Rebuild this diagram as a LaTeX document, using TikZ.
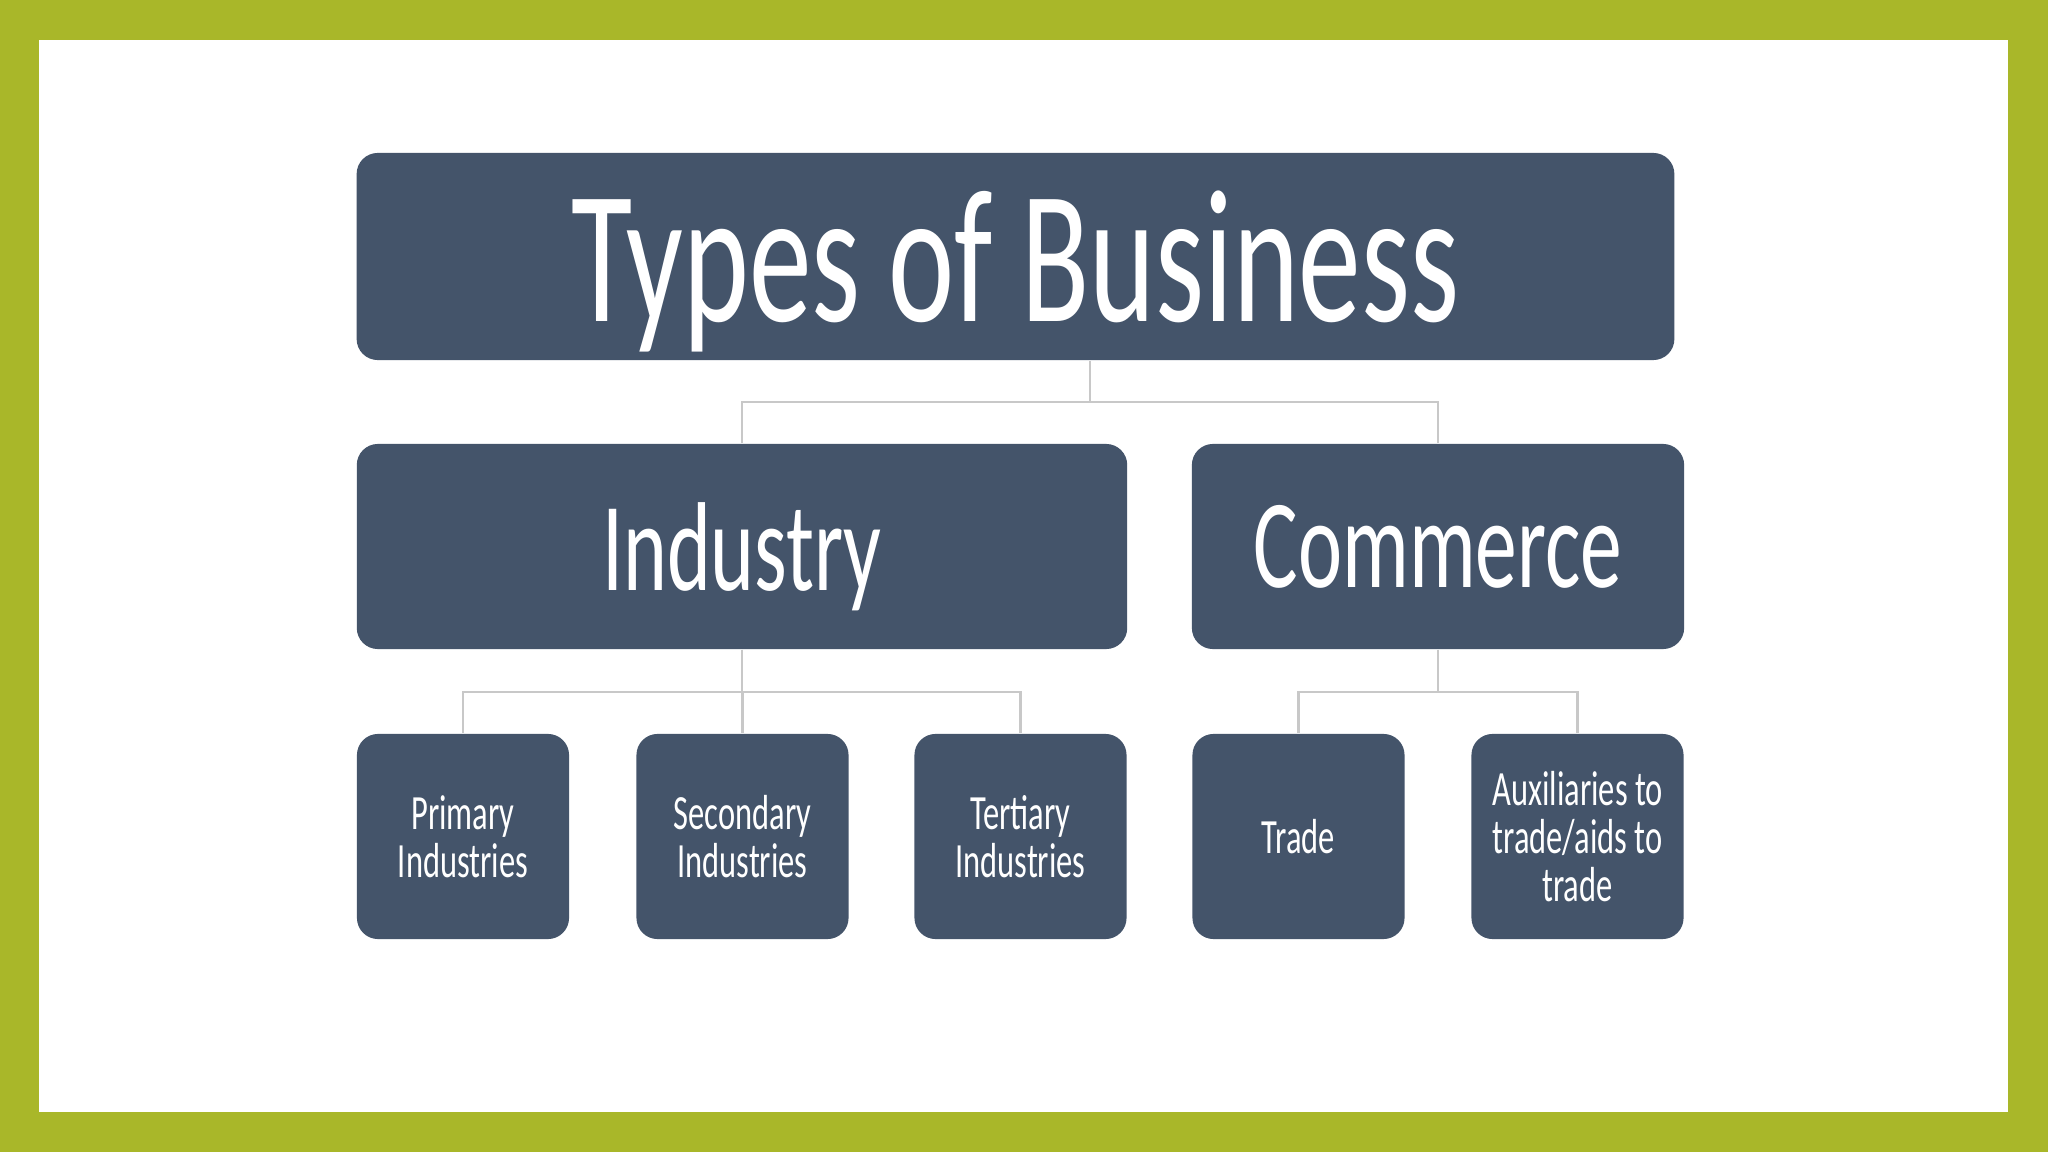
\documentclass[tikz,border=0pt]{standalone}
\usepackage{fontspec}
\setmainfont{Carlito}
\newfontfamily\narrowfont[FakeStretch=0.66]{Carlito}
\usepackage{xcolor}
\usetikzlibrary{positioning}
\definecolor{framegreen}{HTML}{A9B729}
\definecolor{boxblue}{HTML}{44546A}
\definecolor{linkgray}{HTML}{C8C8C8}
\tikzset{
  bizbox/.style={rectangle,rounded corners=6pt,fill=boxblue,text=white,
    inner sep=0pt,align=center,text depth=0pt,font=\narrowfont},
  leafbox/.style={bizbox,minimum width=2.12cm,minimum height=2.05cm,
    font=\narrowfont\fontsize{14}{13.6}\selectfont},
  link/.style={draw=linkgray,line width=0.8pt}
}

\begin{document}
\begin{tikzpicture}[x=0.01cm,y=-0.01cm]
% frame
\fill[framegreen] (0,0) rectangle (2048,1152);
\fill[white] (39,40) rectangle (2008,1112);
%
\node (top) [bizbox,minimum width=13.17cm,minimum height=2.07cm,
  font=\narrowfont\fontsize{54}{60}\selectfont] at (1015.5,256.5) {Types of Business};
\node (ind) [bizbox,minimum width=7.70cm,minimum height=2.05cm,
  font=\narrowfont\fontsize{36}{40}\selectfont] at (742,546.5) {Industry};
\node (com) [bizbox,minimum width=4.92cm,minimum height=2.05cm,
  font=\narrowfont\fontsize{36}{40}\selectfont] at (1438,546.5) {Commerce};
%
\node (p1) [leafbox] at (463,836.5) {Primary\\Industries};
\node (p2) [leafbox] at (742.5,836.5) {Secondary\\Industries};
\node (p3) [leafbox] at (1020.5,836.5) {Tertiary\\Industries};
\node (c1) [leafbox] at (1298.5,836.5) {Trade};
\node (c2) [leafbox] at (1577.5,836.5) {Auxiliaries to\\trade/aids to\\trade};
%
\coordinate (hub) at (1090,402);
\coordinate (rowB) at (0,692);
\draw[link] (hub |- top.south) -- (hub);
\draw[link] (ind.north) -- (ind.north |- hub) -- (com.north |- hub) -- (com.north);
\foreach \k in {p1,p2,p3}
  \draw[link] (ind.south) -- (ind.south |- rowB) -| (\k.north);
\foreach \k in {c1,c2}
  \draw[link] (com.south) -- (com.south |- rowB) -| (\k.north);
\end{tikzpicture}
\end{document}
